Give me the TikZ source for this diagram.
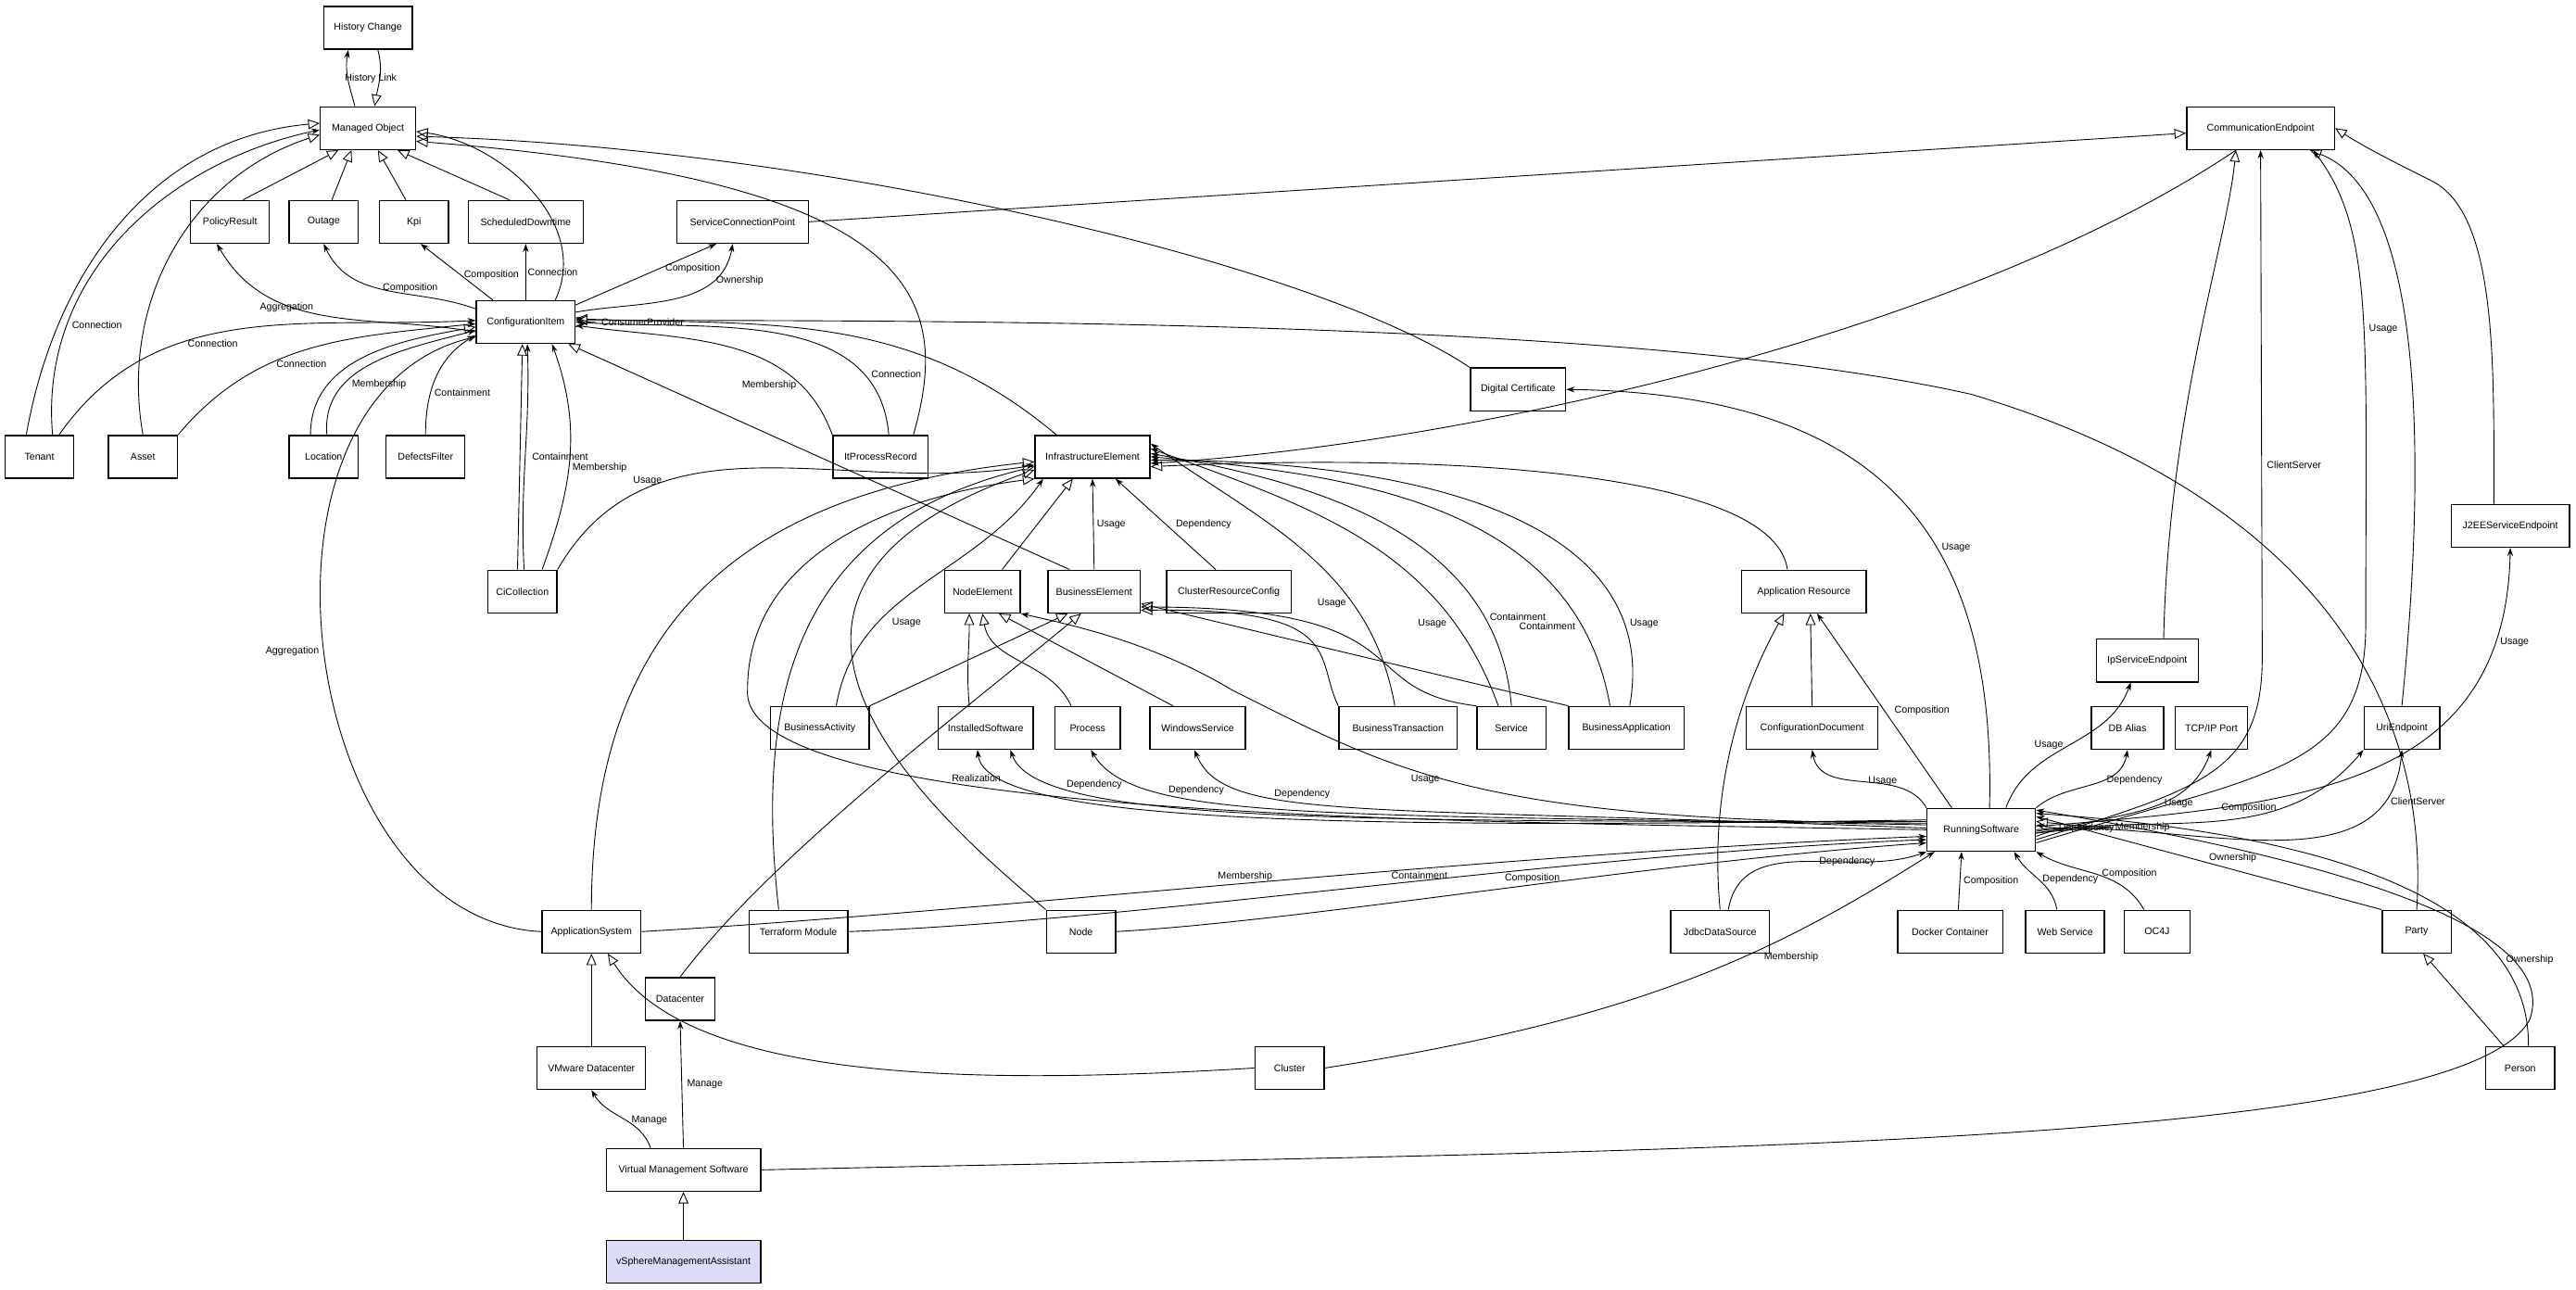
\documentclass[tikz,border=0pt]{standalone}
\usepackage{fontspec}
\setmainfont{Liberation Sans}
\usetikzlibrary{arrows.meta}
\begin{document}
\begin{tikzpicture}[x=1pt,y=-1pt,
  box/.style={draw,line width=0.8pt,minimum height=26pt,inner sep=1pt,font=\fontsize{6}{7}\selectfont},
  gen/.style={-{Triangle[open,length=7pt,width=6pt]},line width=0.5pt},
  assoc/.style={-{Stealth[length=5pt,width=3.5pt]},line width=0.5pt},
  lbl/.style={font=\fontsize{6}{7}\selectfont,inner sep=1pt}]
\useasboundingbox (0,0) rectangle (1568,785);
% nodes
\node[box,minimum width=54pt] (hc) at (224,17) {History Change};
\node[box,minimum width=58pt] (mo) at (224,78) {Managed Object};
\node[box,minimum width=48pt] (pr) at (140,135) {PolicyResult};
\node[box,minimum width=42pt] (out) at (197,135) {Outage};
\node[box,minimum width=42pt] (kpi) at (252,135) {Kpi};
\node[box,minimum width=70pt] (sd) at (320,135) {ScheduledDowntime};
\node[box,minimum width=80pt] (scp) at (452,135) {ServiceConnectionPoint};
\node[box,minimum width=90pt] (ce) at (1376,78) {CommunicationEndpoint};
\node[box,minimum width=60pt] (ci) at (320,196) {ConfigurationItem};
\node[box,minimum width=58pt] (dcert) at (924,237) {Digital Certificate};
\node[box,minimum width=42pt] (ten) at (24,278) {Tenant};
\node[box,minimum width=42pt] (ass) at (87,278) {Asset};
\node[box,minimum width=42pt] (loc) at (197,278) {Location};
\node[box,minimum width=48pt] (df) at (259,278) {DefectsFilter};
\node[box,minimum width=58pt] (itpr) at (536,278) {ItProcessRecord};
\node[box,minimum width=70pt] (ie) at (665,278) {InfrastructureElement};
\node[box,minimum width=72pt] (j2ee) at (1528,320) {J2EEServiceEndpoint};
\node[box,minimum width=42pt] (cic) at (318,360) {CiCollection};
\node[box,minimum width=46pt] (ne) at (598,360) {NodeElement};
\node[box,minimum width=56pt] (be) at (666,360) {BusinessElement};
\node[box,minimum width=76pt] (crc) at (748,360) {ClusterResourceConfig};
\node[box,minimum width=76pt] (ar) at (1098,360) {Application Resource};
\node[box,minimum width=62pt] (ipse) at (1307,402) {IpServiceEndpoint};
\node[box,minimum width=60pt] (ba) at (499,443) {BusinessActivity};
\node[box,minimum width=58pt] (is) at (600,443) {InstalledSoftware};
\node[box,minimum width=40pt] (proc) at (662,443) {Process};
\node[box,minimum width=58pt] (ws) at (729,443) {WindowsService};
\node[box,minimum width=72pt] (bt) at (851,443) {BusinessTransaction};
\node[box,minimum width=42pt] (srv) at (920,443) {Service};
\node[box,minimum width=70pt] (bapp) at (990,443) {BusinessApplication};
\node[box,minimum width=80pt] (cd) at (1103,443) {ConfigurationDocument};
\node[box,minimum width=44pt] (dba) at (1295,443) {DB Alias};
\node[box,minimum width=44pt] (tcp) at (1346,443) {TCP/IP Port};
\node[box,minimum width=46pt] (uri) at (1462,443) {UriEndpoint};
\node[box,minimum width=66pt] (rs) at (1206,505) {RunningSoftware};
\node[box,minimum width=60pt] (as) at (360,567) {ApplicationSystem};
\node[box,minimum width=60pt] (tm) at (486,567) {Terraform Module};
\node[box,minimum width=42pt] (nd) at (658,567) {Node};
\node[box,minimum width=60pt] (jdbc) at (1047,567) {JdbcDataSource};
\node[box,minimum width=64pt] (dock) at (1187,567) {Docker Container};
\node[box,minimum width=48pt] (wsv) at (1257,567) {Web Service};
\node[box,minimum width=40pt] (oc) at (1313,567) {OC4J};
\node[box,minimum width=42pt] (party) at (1471,567) {Party};
\node[box,minimum width=42pt] (dc) at (414,608) {Datacenter};
\node[box,minimum width=66pt] (vmw) at (360,650) {VMware Datacenter};
\node[box,minimum width=42pt] (cl) at (785,650) {Cluster};
\node[box,minimum width=42pt] (per) at (1534,650) {Person};
\node[box,minimum width=94pt] (vms) at (416,712) {Virtual Management Software};
\node[box,minimum width=94pt,fill={rgb,255:red,220;green,220;blue,248}] (vsp) at (416,768) {vSphereManagementAssistant};
% managed object area
\draw[assoc] ([xshift=-8pt]mo.north) to[out=105,in=-100] node[lbl,pos=0.5,right=-3pt]{History Link} ([xshift=-12pt]hc.south);
\draw[gen] ([xshift=6pt]hc.south) to[out=-75,in=80] ([xshift=4pt]mo.north);
\draw[gen] ([xshift=8pt]pr.north) -- ([xshift=-18pt]mo.south);
\draw[gen] ([xshift=5pt]out.north) -- ([xshift=-10pt]mo.south);
\draw[gen] ([xshift=-5pt]kpi.north) -- ([xshift=6pt]mo.south);
\draw[gen] ([xshift=-10pt]sd.north) -- ([xshift=18pt]mo.south);
\draw[gen] ([xshift=-8pt]ten.north) to[out=80,in=185] ([yshift=3pt]mo.west);
\draw[assoc] ([xshift=8pt]ten.north) to[out=95,in=192] node[lbl,pos=0.25,right=2pt]{Connection} ([yshift=-1pt]mo.west);
\draw[gen] (ass.north) to[out=100,in=198] ([yshift=-4pt]mo.west);
\draw[gen] ([xshift=18pt]ci.north) to[out=65,in=-8] ([yshift=-2pt]mo.east);
\draw[gen] (dcert.north west) .. controls (800,160) and (500,90) .. ([yshift=-5pt]mo.east);
\draw[gen] ([xshift=20pt]itpr.north) .. controls (580,180) and (560,110) .. ([yshift=-8pt]mo.east);
\draw[gen] (scp.east) -- ([yshift=-3pt]ce.west);
% CI outgoing
\draw[assoc] ([yshift=-6pt]ci.west) to[out=170,in=-60] node[lbl,pos=0.55,above left=-1pt]{Aggregation} ([xshift=-8pt]pr.south);
\draw[assoc] ([yshift=8pt]ci.west) to[out=160,in=-65] node[lbl,pos=0.55,right=1pt]{Composition} (out.south);
\draw[assoc] ([xshift=-20pt]ci.north) -- node[lbl,pos=0.45,right=1pt]{Composition} ([xshift=4pt]kpi.south);
\draw[assoc] (ci.north) -- node[lbl,pos=0.5,right=0pt]{Connection} (sd.south);
\draw[assoc] ([yshift=-3pt]ci.north east) -- node[lbl,pos=0.6,right=2pt]{Composition} ([xshift=-16pt]scp.south);
\draw[assoc] ([yshift=6pt]ci.east) to[out=10,in=-100] node[lbl,pos=0.75,right=1pt]{Ownership} ([xshift=-6pt]scp.south);
\draw[assoc] ([yshift=-3pt]ci.east) .. controls +(14,-6) and +(14,6) .. ([yshift=3pt]ci.east) node[lbl,pos=0.5,right=4pt]{ConsumerProvider};
% CI incoming
\draw[assoc] ([xshift=12pt]ten.north) to[out=55,in=183] node[lbl,pos=0.35,right=4pt]{Connection} ([yshift=1pt]ci.west);
\draw[assoc] (ass.north east) to[out=50,in=186] node[lbl,pos=0.35,right=4pt]{Connection} ([yshift=-1pt]ci.west);
\draw[gen] ([xshift=-8pt]loc.north) to[out=90,in=190] ([yshift=-3pt]ci.west);
\draw[assoc] ([xshift=2pt]loc.north) to[out=95,in=195] node[lbl,pos=0.3,right=4pt]{Membership} ([yshift=-5pt]ci.west);
\draw[assoc] (df.north) to[out=90,in=210] node[lbl,pos=0.35,right=1pt]{Containment} ([yshift=-8pt]ci.west);
\draw[assoc] (itpr.north west) to[out=110,in=-8] node[lbl,pos=0.2,left=2pt]{Membership} ([yshift=-2pt]ci.east);
\draw[assoc] ([xshift=5pt]itpr.north) to[out=95,in=-4] node[lbl,pos=0.2,right=3pt]{Connection} ([yshift=0pt]ci.east);
\draw[gen] ([xshift=-22pt]ie.north) to[out=140,in=-2] ([yshift=2pt]ci.east);
\draw[gen] (party.north) .. controls (1480,420) and (1400,300) .. (1200,240) .. controls (1000,195) and (600,195) .. ([yshift=1pt]ci.east);
\draw[gen] ([xshift=-3pt]cic.north) -- ([xshift=-2pt]ci.south);
\draw[assoc] ([xshift=1pt]cic.north) to[out=93,in=-88] node[lbl,pos=0.5,right=3pt]{Containment} ([xshift=1pt]ci.south);
\draw[assoc] ([xshift=12pt]cic.north) to[out=70,in=-70] node[lbl,pos=0.45,right=1pt]{Membership} ([xshift=16pt]ci.south);
\draw[assoc] (as.west) .. controls (180,560) and (140,240) .. node[lbl,pos=0.5,left=2pt]{Aggregation} ([yshift=-9pt]ci.west);
\draw[gen] ([xshift=-15pt]be.north) -- ([xshift=26pt]ci.south);
\draw[assoc] ([xshift=5pt]rs.north) .. controls (1215,330) and (1150,240) .. node[lbl,pos=0.4,right=2pt]{Usage} (dcert.east);
% IE incoming
\draw[assoc] ([xshift=-15pt]ce.south) .. controls (1200,200) and (900,270) .. ([yshift=-4pt]ie.east);
\draw[assoc] (cic.north east) to[out=60,in=190] node[lbl,pos=0.3,left=2pt]{Usage} ([yshift=-5pt]ie.west);
\draw[gen] (as.north) .. controls (360,380) and (450,300) .. ([yshift=-3pt]ie.west);
\draw[gen] ([xshift=-12pt]tm.north) .. controls (460,430) and (480,320) .. ([yshift=-6pt]ie.west);
\draw[gen] (nd.north west) .. controls (560,490) and (420,360) .. ([yshift=-8pt]ie.west);
\draw[gen] (rs.west) .. controls (900,500) and (450,500) .. (455,420) .. controls (455,330) and (560,300) .. (ie.south west);
\draw[gen] ([xshift=12pt]ne.north) -- ([xshift=-12pt]ie.south);
\draw[assoc] (be.north) -- node[lbl,pos=0.5,right=1pt]{Usage} (ie.south);
\draw[assoc] ([xshift=-8pt]crc.north) -- node[lbl,pos=0.5,right=5pt]{Dependency} ([xshift=14pt]ie.south);
\draw[assoc] ([xshift=10pt]ba.north) to[out=80,in=-125] node[lbl,pos=0.3,right=8pt]{Usage} ([xshift=-30pt]ie.south);
\draw[assoc] ([xshift=-2pt]bt.north) to[out=100,in=-35] node[lbl,pos=0.3,left=3pt]{Usage} ([yshift=8pt]ie.east);
\draw[assoc] ([xshift=-8pt]srv.north) to[out=110,in=-20] node[lbl,pos=0.2,left=4pt]{Usage} ([yshift=5pt]ie.east);
\draw[assoc] ([xshift=0pt]srv.north) to[out=95,in=-10] node[lbl,pos=0.2,right=2pt]{Containment} ([yshift=2pt]ie.east);
\draw[assoc] ([xshift=-10pt]bapp.north) to[out=100,in=-5] node[lbl,pos=0.15,left=3pt]{Containment} ([yshift=0pt]ie.east);
\draw[assoc] ([xshift=2pt]bapp.north) to[out=80,in=0] node[lbl,pos=0.15,right=2pt]{Usage} ([yshift=-2pt]ie.east);
\draw[gen] ([xshift=-10pt]ar.north) .. controls (1080,290) and (900,275) .. ([yshift=-6pt]ie.east);
% BE / NE
\draw[gen] (ba.north east) -- ([xshift=-16pt]be.south);
\draw[gen] (dc.north) .. controls (470,520) and (590,430) .. ([xshift=-8pt]be.south);
\draw[gen] (bt.north west) .. controls (800,400) and (820,370) .. ([yshift=2pt]be.south east);
\draw[gen] (srv.north west) .. controls (820,420) and (870,370) .. ([yshift=4pt]be.south east);
\draw[gen] (bapp.north west) -- ([yshift=6pt]be.south east);
\draw[gen] ([xshift=-10pt]is.north) to[out=95,in=-90] ([xshift=-8pt]ne.south);
\draw[gen] ([xshift=-10pt]proc.north) to[out=115,in=-80] ([xshift=0pt]ne.south);
\draw[gen] ([xshift=-15pt]ws.north) -- ([xshift=10pt]ne.south);
\draw[assoc] ([yshift=4pt]rs.west) .. controls (900,500) and (850,470) .. node[lbl,pos=0.55,left=2pt]{Usage} (750,420) .. controls (700,390) and (650,380) .. (ne.south east);
% RS to NE children
\draw[assoc] ([yshift=6pt]rs.west) .. controls (800,505) and (600,500) .. node[lbl,pos=0.85,left=0pt]{Realization} ([xshift=-5pt]is.south);
\draw[assoc] ([yshift=5pt]rs.west) .. controls (800,500) and (630,500) .. node[lbl,pos=0.8,right=5pt]{Dependency} ([xshift=15pt]is.south);
\draw[assoc] ([yshift=3pt]rs.west) .. controls (800,495) and (690,500) .. node[lbl,pos=0.75,right=8pt]{Dependency} ([xshift=2pt]proc.south);
\draw[assoc] ([yshift=1pt]rs.west) .. controls (820,490) and (745,500) .. node[lbl,pos=0.7,right=10pt]{Dependency} ([xshift=-2pt]ws.south);
% RS right upper
\draw[assoc] (rs.north west) to[out=120,in=-80] node[lbl,pos=0.5,right=2pt]{Usage} (cd.south);
\draw[assoc] ([xshift=-18pt]rs.north) -- node[lbl,pos=0.5,right=5pt]{Composition} ([xshift=8pt]ar.south);
\draw[gen] (jdbc.north) .. controls (1040,480) and (1060,420) .. ([xshift=-12pt]ar.south);
\draw[gen] (cd.north) -- ([xshift=4pt]ar.south);
\draw[assoc] ([xshift=15pt]rs.north) to[out=70,in=-110] node[lbl,pos=0.5,left=2pt]{Usage} ([xshift=-10pt]ipse.south);
\draw[gen] ([xshift=10pt]ipse.north) .. controls (1320,250) and (1355,150) .. ([xshift=-15pt]ce.south);
\draw[assoc] (rs.north east) to[out=40,in=-100] node[lbl,pos=0.6,right=2pt]{Dependency} (dba.south);
\draw[assoc] ([yshift=-4pt]rs.east) to[out=20,in=-110] node[lbl,pos=0.6,right=2pt]{Usage} (tcp.south);
\draw[assoc] ([yshift=-2pt]rs.east) to[out=10,in=-130] node[lbl,pos=0.7,left=1pt]{Composition} (uri.south west);
\draw[assoc] ([yshift=0pt]rs.east) to[out=5,in=-95] node[lbl,pos=0.85,right=3pt]{ClientServer} (uri.south);
\draw[gen] (uri.north) .. controls (1475,300) and (1480,120) .. ([xshift=30pt]ce.south);
\draw[assoc] ([yshift=-6pt]rs.east) .. controls (1340,480) and (1377,470) .. (1377,400) -- node[lbl,pos=0.38,right=2pt]{ClientServer} (ce.south);
\draw[assoc] ([yshift=-8pt]rs.east) .. controls (1380,470) and (1440,470) .. (1440,380) .. controls (1440,200) and (1445,140) .. node[lbl,pos=0.45,right=2pt]{Usage} ([xshift=32pt]ce.south);
\draw[assoc] ([yshift=2pt]rs.east) .. controls (1400,490) and (1525,480) .. node[lbl,pos=0.85,right=2pt]{Usage} (j2ee.south);
\draw[gen] ([xshift=-10pt]j2ee.north) .. controls (1518,220) and (1520,130) .. (1480,110) .. controls (1460,100) and (1440,90) .. (ce.east);
\draw[assoc] ([yshift=-1pt]rs.east) .. controls +(22,-4) and +(22,4) .. node[lbl,pos=0.5,anchor=west,xshift=-4pt]{Dependency} ([yshift=3pt]rs.east);
\draw[gen] ([yshift=-2pt]rs.east) .. controls +(60,-6) and +(60,6) .. node[lbl,pos=0.5,anchor=west,xshift=2pt]{Membership} ([yshift=5pt]rs.east);
% bottom to RS
\draw[assoc] (as.east) .. controls (600,555) and (900,520) .. node[lbl,pos=0.5,above=0pt]{Membership} ([yshift=-4pt]rs.west);
\draw[assoc] (tm.east) .. controls (700,560) and (950,520) .. node[lbl,pos=0.55,above=0pt]{Containment} ([yshift=-6pt]rs.west);
\draw[assoc] (nd.east) .. controls (800,560) and (1000,525) .. node[lbl,pos=0.55,above=0pt]{Composition} ([yshift=-8pt]rs.west);
\draw[assoc] ([xshift=5pt]jdbc.north) to[out=80,in=200] node[lbl,pos=0.5,right=8pt]{Dependency} (rs.south west);
\draw[assoc] (cl.east) .. controls (1000,620) and (1080,580) .. node[lbl,pos=0.6,right=12pt]{Membership} ([xshift=5pt]rs.south west);
\draw[assoc] ([xshift=5pt]dock.north) -- node[lbl,pos=0.5,right=1pt]{Composition} ([xshift=-12pt]rs.south);
\draw[assoc] ([xshift=-5pt]wsv.north) to[out=100,in=-60] node[lbl,pos=0.5,right=1pt]{Dependency} ([xshift=20pt]rs.south);
\draw[assoc] ([xshift=-8pt]oc.north) to[out=120,in=-30] node[lbl,pos=0.5,right=2pt]{Composition} (rs.south east);
\draw[assoc] (party.north west) -- node[lbl,pos=0.5,above right=-1pt]{Ownership} ([yshift=8pt]rs.east);
\draw[assoc] ([xshift=5pt]per.north) .. controls (1540,560) and (1450,510) .. node[lbl,pos=0.25,right=2pt]{Ownership} ([yshift=10pt]rs.east);
\draw[assoc] (vms.east) .. controls (1000,700) and (1500,700) .. (1540,620) .. controls (1560,560) and (1400,520) .. ([yshift=12pt]rs.east);
% lower left
\draw[gen] (vmw.north) -- (as.south);
\draw[gen] (cl.west) .. controls (600,660) and (420,660) .. ([xshift=10pt]as.south);
\draw[assoc] ([xshift=-20pt]vms.north) to[out=110,in=-60] node[lbl,pos=0.45,right=2pt]{Manage} (vmw.south);
\draw[assoc] (vms.north) -- node[lbl,pos=0.5,right=2pt]{Manage} (dc.south);
\draw[gen] (vsp.north) -- (vms.south);
\draw[gen] ([xshift=-10pt]per.north) -- ([xshift=4pt]party.south);
\end{tikzpicture}
\end{document}
